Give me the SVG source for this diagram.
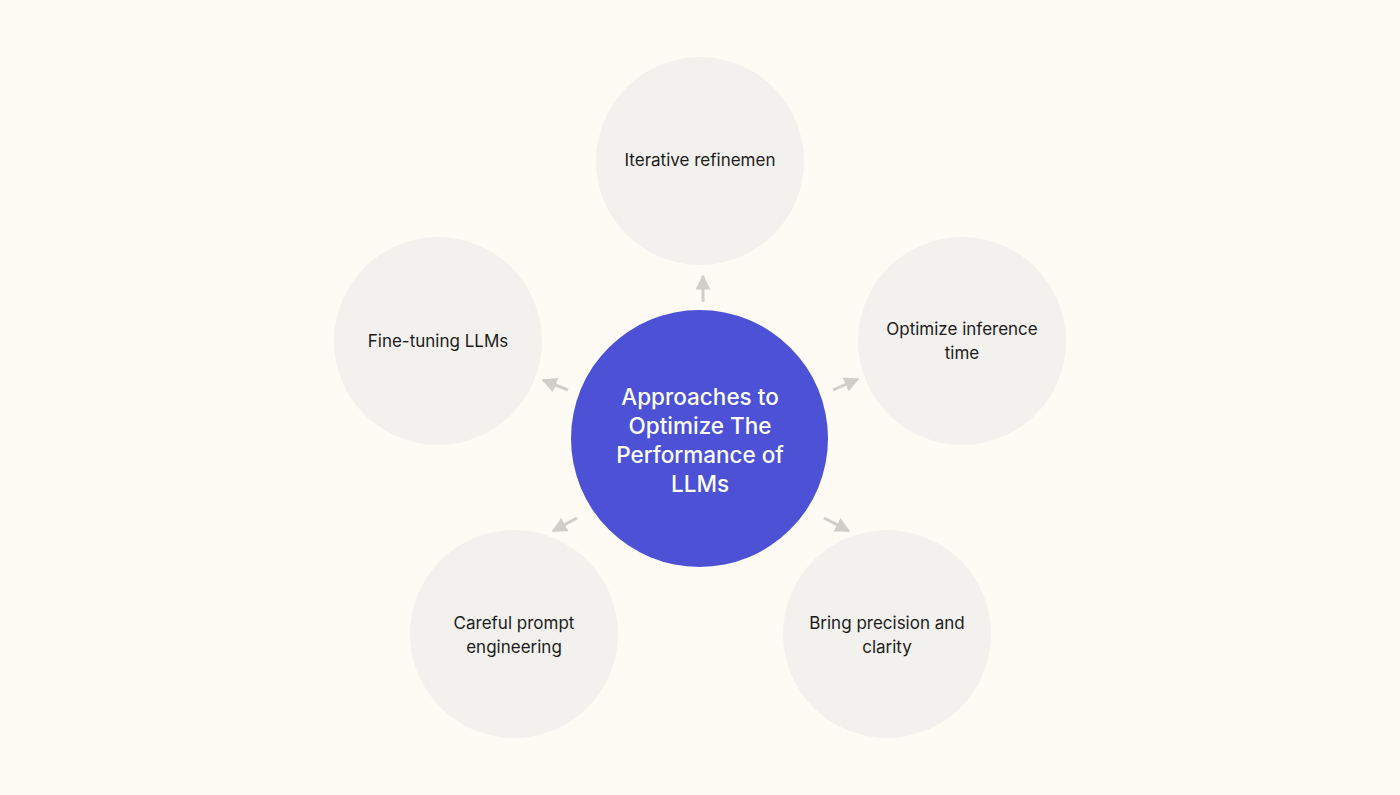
<svg xmlns="http://www.w3.org/2000/svg" width="1400" height="795" viewBox="0 0 1400 795">
<style>
.bg{fill:#fdfbf4}
.node{fill:#f2f1ed}
.center{fill:#4c51d6}
.lbl{font-family:Inter,"Open Sans","Liberation Sans",sans-serif;font-size:17px;fill:#1c1c1c;text-anchor:middle}
.clbl{font-family:Inter,"Open Sans","Liberation Sans",sans-serif;font-size:22.5px;font-weight:500;fill:#ffffff;text-anchor:middle}
.conn{stroke:#d0cec8;stroke-width:3;fill:none;marker-end:url(#ah)}
</style>
<defs>
<marker id="ah" viewBox="0 0 10 10" refX="9" refY="5" markerWidth="5" markerHeight="5" orient="auto" markerUnits="strokeWidth">
<path d="M0,0 L10,5 L0,10 z" fill="#d0cec8"/>
</marker>
</defs>
<rect class="bg" x="0" y="0" width="1400" height="795"/>
<g id="connectors">
<line class="conn" x1="703" y1="302" x2="703" y2="276"/>
<line class="conn" x1="568" y1="390" x2="543" y2="380"/>
<line class="conn" x1="833" y1="390" x2="858" y2="379"/>
<line class="conn" x1="577" y1="518" x2="553" y2="531"/>
<line class="conn" x1="824" y1="518" x2="849" y2="531"/>
</g>
<g id="node-top">
<circle class="node" cx="700" cy="161" r="104"/>
<text class="lbl" x="700" y="166">Iterative refinemen</text>
</g>
<g id="node-left">
<circle class="node" cx="438" cy="341" r="104"/>
<text class="lbl" x="438" y="347">Fine-tuning LLMs</text>
</g>
<g id="node-right">
<circle class="node" cx="962" cy="341" r="104"/>
<text class="lbl" x="962" y="335">Optimize inference</text>
<text class="lbl" x="962" y="359">time</text>
</g>
<g id="node-bottom-left">
<circle class="node" cx="514" cy="634" r="104"/>
<text class="lbl" x="514" y="629">Careful prompt</text>
<text class="lbl" x="514" y="653">engineering</text>
</g>
<g id="node-bottom-right">
<circle class="node" cx="887" cy="634" r="104"/>
<text class="lbl" x="887" y="629">Bring precision and</text>
<text class="lbl" x="887" y="653">clarity</text>
</g>
<g id="node-center">
<circle class="center" cx="699.5" cy="438.5" r="128.5"/>
<text class="clbl" x="700" y="405">Approaches to</text>
<text class="clbl" x="700" y="434">Optimize The</text>
<text class="clbl" x="700" y="463">Performance of</text>
<text class="clbl" x="700" y="492">LLMs</text>
</g>
</svg>
